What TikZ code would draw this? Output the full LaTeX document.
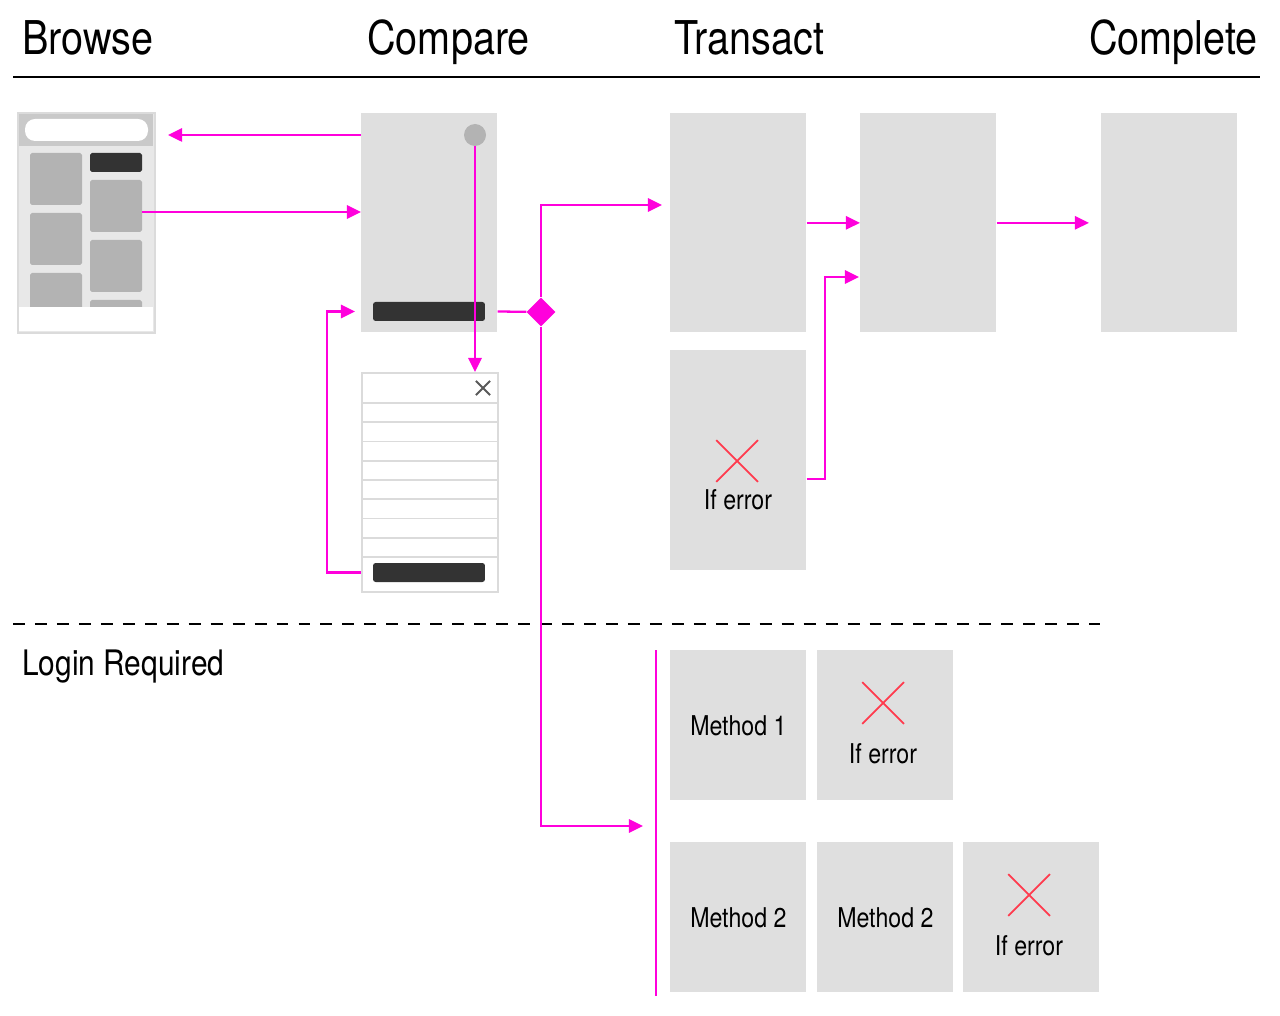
\documentclass[tikz,border=0pt]{standalone}
\usepackage{fontspec}
\setmainfont[FakeStretch=0.85]{TeX Gyre Heros}
\usetikzlibrary{positioning,arrows.meta,shapes.geometric,shapes.misc,calc}

\definecolor{flowpink}{HTML}{FF00DC}
\definecolor{screengray}{HTML}{DFDFDF}
\definecolor{tilegray}{HTML}{B3B3B3}
\definecolor{darkbtn}{HTML}{333333}
\definecolor{errred}{HTML}{FF3B4E}

\begin{document}
\begin{tikzpicture}[x=0.02cm,y=-0.02cm,
  flow/.style={draw=flowpink,line width=1.3pt,-{Triangle[length=8pt,width=7.5pt]}},
  flowline/.style={draw=flowpink,line width=1.3pt},
  phase/.style={font=\fontsize{26.5}{30}\selectfont,inner sep=0pt},
  screenbox/.style={fill=screengray,anchor=north west,inner sep=0pt,minimum width=2.72cm,minimum height=4.38cm},
  optbox/.style={fill=screengray,anchor=north west,inner sep=0pt,minimum width=2.72cm,minimum height=3cm,font=\fontsize{15.5}{18}\selectfont},
  btn/.style={fill=darkbtn,rounded corners=1.5pt,minimum width=2.24cm,minimum height=0.38cm,inner sep=0pt},
  errx/.style={cross out,draw=errred,line width=1pt,minimum size=0.8cm,inner sep=0pt},
  errtext/.style={font=\fontsize{15.5}{18}\selectfont,inner sep=0pt}]
\useasboundingbox (0,0) rectangle (1280,1016);

\node[phase,anchor=base west] (browse) at (22,55) {Browse};
\node[phase,anchor=base west] (compare) at (367,55) {Compare};
\node[phase,anchor=base west] (transact) at (674,55) {Transact};
\node[phase,anchor=base east] (complete) at (1258,55) {Complete};
\draw[line width=1.2pt] (13,77) -- (1260,77);

\node[anchor=north west,fill=gray!18,draw=gray!28,line width=0.6pt,inner sep=0pt,minimum width=2.72cm,minimum height=4.38cm] (brw) at (18,113) {};
\fill[gray!42] (19,114) rectangle (153,146);
\fill[white,rounded corners=0.2cm] (25,119) rectangle (148,141);
\foreach \ya/\yb in {153/205,213/265,273/315} \fill[tilegray,rounded corners=1pt] (30,\ya) rectangle (82,\yb);
\foreach \ya/\yb in {180/232,240/292,300/315} \fill[tilegray,rounded corners=1pt] (90,\ya) rectangle (142,\yb);
\fill[darkbtn,rounded corners=1pt] (90,153) rectangle (142,172);
\fill[white] (19,307) rectangle (153,331);
\draw[gray!28,line width=0.6pt] (brw.north west) rectangle (brw.south east);
\coordinate (pick) at (142,212);

\node[screenbox] (cmp) at (361,113) {};
\node[circle,fill=tilegray,minimum size=0.44cm,inner sep=0pt] (dot) at (475,135) {};
\node[btn] (cbtn) at (429,311.5) {};

\node[anchor=north west,fill=white,draw=gray!28,line width=1pt,inner sep=0pt,minimum width=2.72cm,minimum height=4.38cm] (lst) at (361,372) {};
\foreach \y in {403,422.25,...,558} \draw[gray!28,line width=1pt] (361,\y) -- (497,\y);
\node[cross out,draw=gray!70!black,line width=1.2pt,minimum size=0.24cm,inner sep=0pt] (close) at (483,388) {};
\node[btn] (lbtn) at (429,572.5) {};

\node[diamond,fill=flowpink,minimum size=0.58cm,inner sep=0pt] (dia) at (541,312) {};

\node[screenbox] (tr1) at (670,113) {};
\node[screenbox] (tr2) at (860,113) {};
\node[screenbox] (done) at (1101,113) {};
\node[screenbox,minimum height=4.4cm] (err) at (670,350) {};
\node[errx] (errx1) at (737,461) {};
\node[errtext] (errlbl1) at (738,500) {If error};

\draw[dashed,dash pattern=on 6.8pt off 5.7pt,line width=0.85pt] (13,624) -- (1100,624);
\node[anchor=base west,font=\fontsize{20}{24}\selectfont,inner sep=0pt] (login) at (22,675) {Login Required};

\node[optbox] (m1) at (670,650) {Method 1};
\node[optbox] (e2) at (817,650) {};
\node[errx] (errx2) at (883,703) {};
\node[errtext] (errlbl2) at (883,754) {If error};
\node[optbox] (m2a) at (670,842) {Method 2};
\node[optbox] (m2b) at (817,842) {Method 2};
\node[optbox] (e3) at (963,842) {};
\node[errx] (errx3) at (1029,895) {};
\node[errtext] (errlbl3) at (1029,946) {If error};

\coordinate (railtop) at (656,650);
\coordinate (railbot) at (656,996);
\draw[flowline] (railtop) -- (railbot);

\draw[flow,shorten >=0.26cm] (cmp.west |- dot) -- (brw.east |- dot);
\draw[flow] (pick) -- (cmp.west |- pick);
\draw[flow] (dot.south) -- (lst.north -| dot.south);
\draw[flow] (lst.west |- lbtn) -- ++(-34,0) |- ($(cmp.west |- cbtn)+(-6,0)$);
\draw[flowline] (cmp.east |- cbtn) -- (dia);
\draw[flow] (dia) |- ($(tr1.north west)+(-8,92)$);
\draw[flow] (dia) |- ($(railtop |- 0,826)+(-13,0)$);
\draw[flow] (tr1.east) -- (tr2.west);
\draw[flow] ($(err.north east)+(0,129)$) -- ++(18,0) |- ($(tr2.north west)+(-1,164)$);
\draw[flow,shorten >=0.24cm] (tr2.east) -- (done.west);
\end{tikzpicture}
\end{document}
